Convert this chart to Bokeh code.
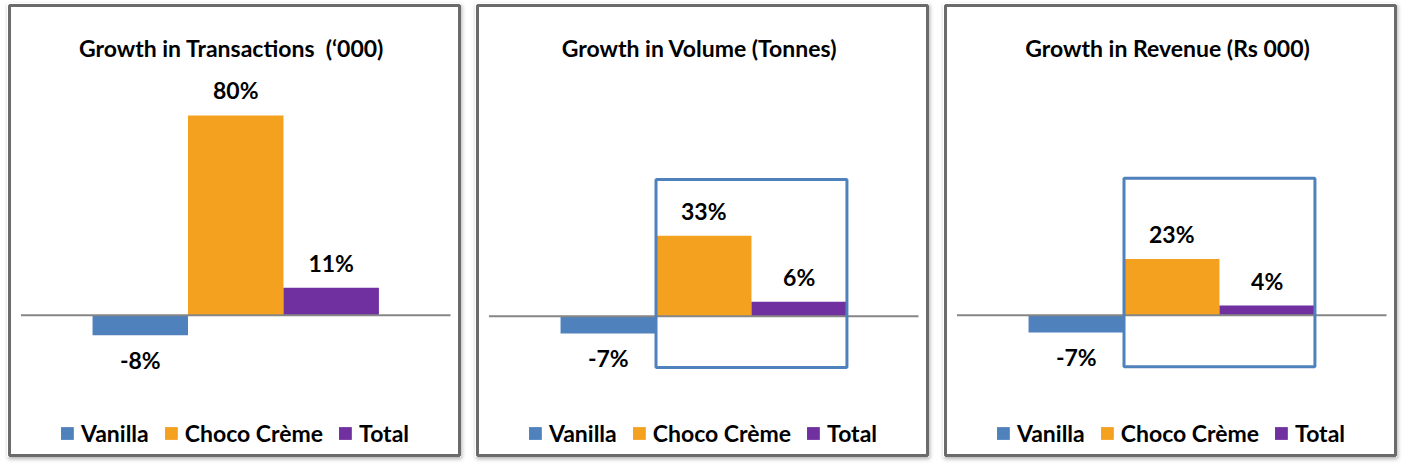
from bokeh.core.properties import value
from bokeh.embed import file_html
from bokeh.layouts import row
from bokeh.models import BoxAnnotation, ColumnDataSource, Label
from bokeh.plotting import figure
from bokeh.resources import INLINE

categories = ["Vanilla", "Choco Crème", "Total"]
colors = ["#4F81BD", "#F4A11F", "#7030A0"]

titles = ["Growth in Transactions \u00a0(\u2018000)", "Growth in Volume (Tonnes)", "Growth in Revenue (Rs 000)"]
transactions = [-8, 80, 11]
volume = [-7, 33, 6]
revenue = [-7, 23, 4]

# value axis limits per chart (percent)
y_limits = [(-56.2, 124), (-57, 127.3), (-57.3, 126.6)]
# blue highlight box round Choco Crème and Total (percent), none on the first chart
highlight = [None, (-21, 56), (-21, 56)]

FONT = value("Lato")
SIZE = "23px"


def make_panel(title, values, limits, box):
    """One bordered chart with three bars, labels and a legend"""
    xs = [i - 1 for i in range(len(categories))]
    src = ColumnDataSource(dict(x=xs, v=values, cat=categories, color=colors,
                                label=[f"{v}%" for v in values],
                                dy=[-25 if v >= 0 else 25 for v in values]))
    p = figure(width=454, height=454, x_range=(-2.37, 2.344), y_range=limits,
               x_axis_location=None, y_axis_location=None,
               toolbar_location=None, output_backend="svg", min_border=2)
    p.grid.visible = False
    p.outline_line_color = "#6B6B6B"
    p.outline_line_width = 3
    p.styles = {"box-shadow": "1px 2px 4px rgba(0, 0, 0, 0.3)"}

    p.vbar(x="x", top="v", width=1, fill_color="color", line_color=None, source=src, legend_field="cat")
    # zero line across the plot area (gap width 150% -> 0.75 bar each side)
    p.segment(x0=[xs[0] - 1.25], y0=[0], x1=[xs[-1] + 1.25], y1=[0], line_color="#868686", line_width=2)
    p.text(x="x", y="v", text="label", y_offset="dy", source=src, text_align="center",
           text_baseline="alphabetic", text_font=FONT, text_font_style="bold",
           text_font_size=SIZE, text_color="black")

    p.add_layout(Label(x=222, y=408, x_units="screen", y_units="screen", text=title,
                       text_align="center", text_baseline="alphabetic", text_font="Lato",
                       text_font_style="bold", text_font_size=SIZE, text_color="black"))

    if box is not None:
        p.add_layout(BoxAnnotation(left=xs[1] - 0.5, right=xs[2] + 0.5, bottom=box[0], top=box[1],
                                   fill_alpha=0, line_color="#4F81BD", line_width=3, line_alpha=1))

    lg = p.legend[0]
    lg.location = "bottom_center"
    lg.orientation = "horizontal"
    lg.margin = 8
    lg.padding = 0
    lg.spacing = 14
    lg.glyph_width = 16
    lg.glyph_height = 16
    lg.label_height = 16
    lg.label_standoff = 6
    lg.border_line_color = None
    lg.background_fill_alpha = 0
    lg.label_text_font = "Lato"
    lg.label_text_font_style = "bold"
    lg.label_text_font_size = SIZE
    lg.label_text_color = "black"
    return p


panels = [make_panel(t, v, lim, b) for t, v, lim, b in
          zip(titles, [transactions, volume, revenue], y_limits, highlight)]
layout = row(*panels, spacing=14, margin=(3, 0, 0, 7))

open("out.html", "w").write(file_html(layout, INLINE))
